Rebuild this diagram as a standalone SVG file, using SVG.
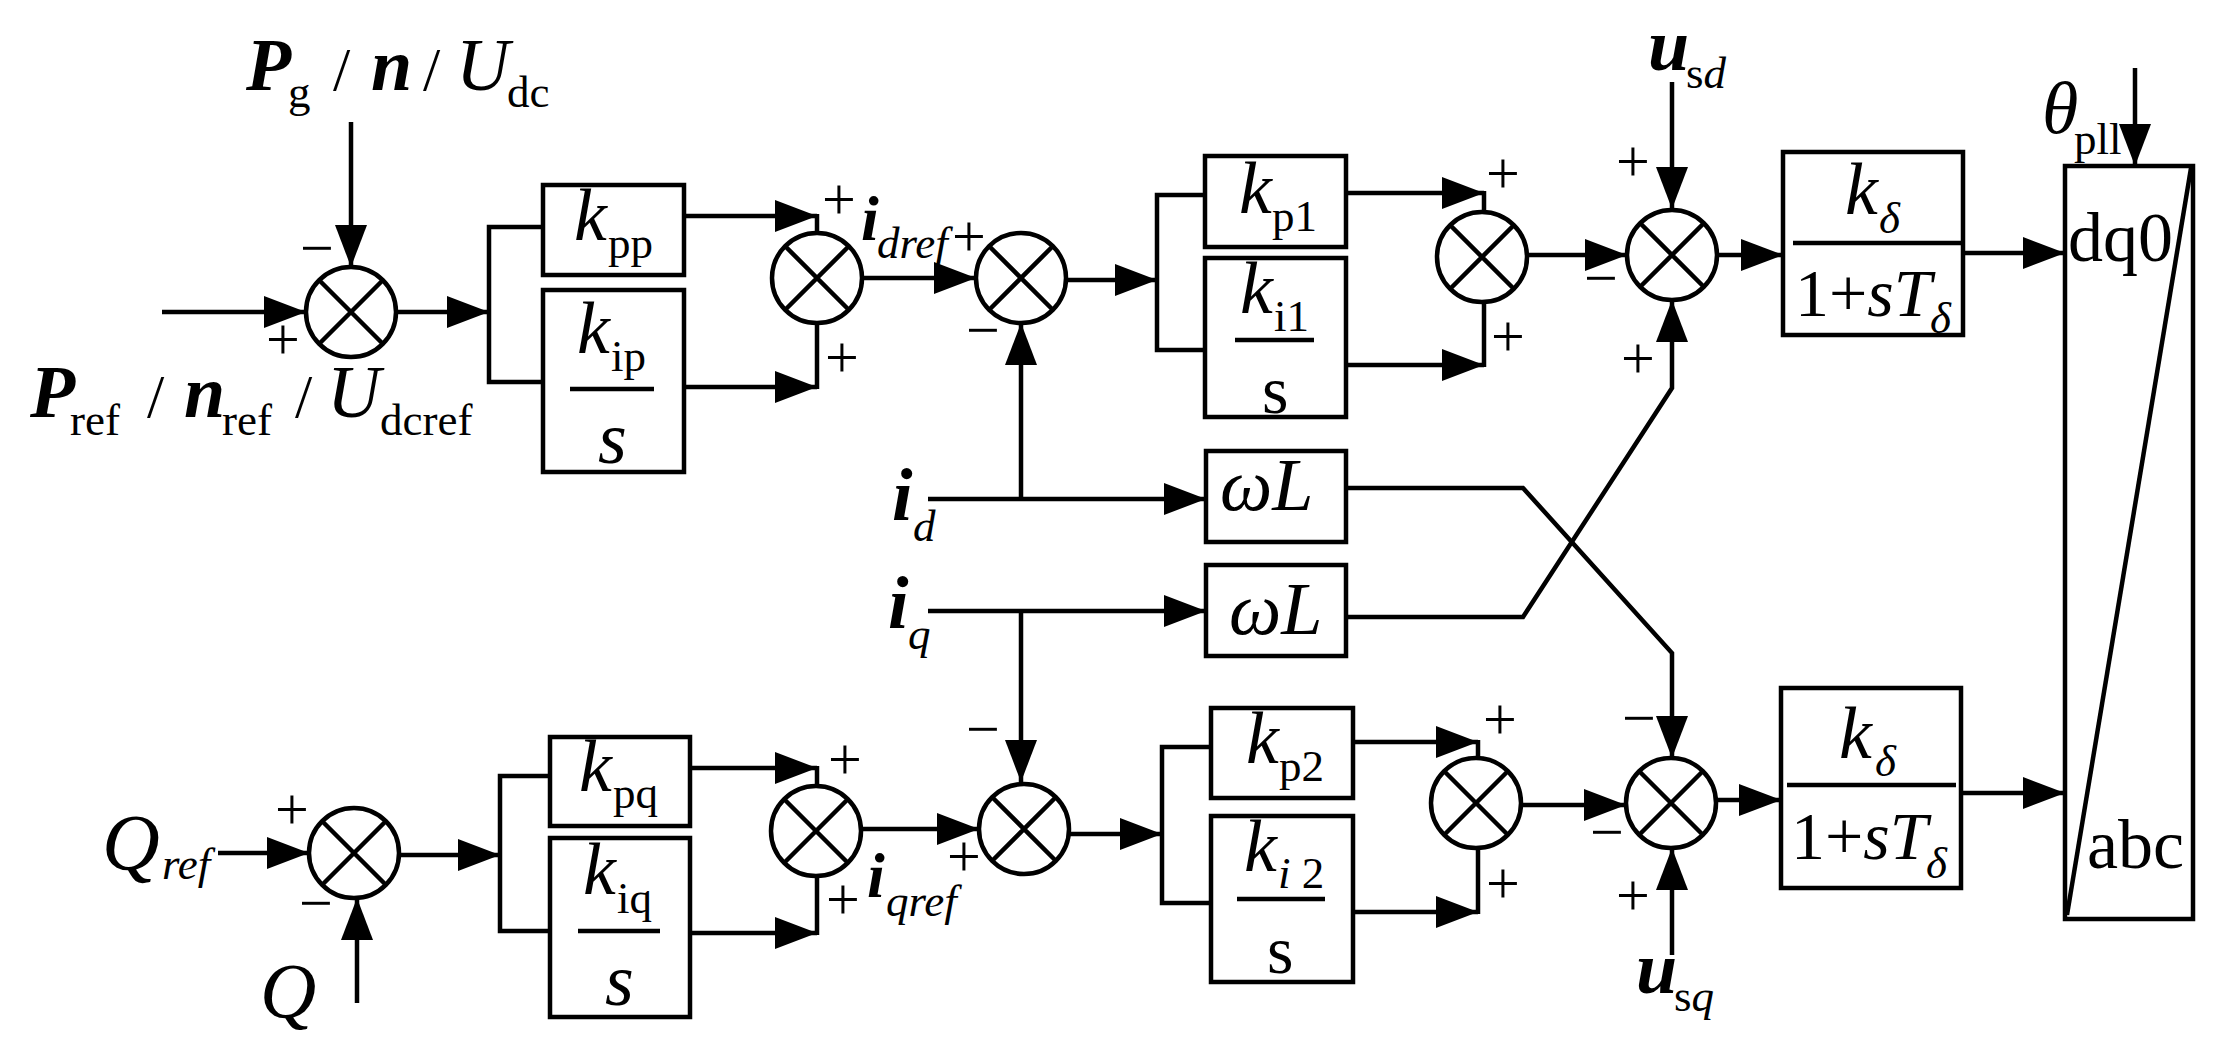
<svg xmlns="http://www.w3.org/2000/svg" width="2229" height="1062" viewBox="0 0 2229 1062">
<defs>
<style>
.ln{fill:none;stroke:#000;stroke-width:4.5;stroke-linejoin:miter}
.ar{fill:none;stroke:#000;stroke-width:4.5;marker-end:url(#ah)}
.bx{fill:#fff;stroke:#000;stroke-width:4.5}
.sc{fill:#fff;stroke:#000;stroke-width:4.5}
text{font-family:"Liberation Serif","Times New Roman",serif;fill:#000}
.it{font-style:italic}
.bi{font-style:italic;font-weight:bold}
.m{font-size:74px}
.s{font-size:45px}
.sg{font-size:60px}
.sl{font-size:62px}
</style>
<marker id="ah" markerUnits="userSpaceOnUse" markerWidth="42" markerHeight="32" refX="42" refY="16" orient="auto" viewBox="0 0 42 32">
<path d="M0,0 L42,16 L0,32 z" fill="#000"/>
</marker>
<g id="sumj">
<circle cx="0" cy="0" r="45" class="sc"/>
<path d="M-32,-32 L32,32 M32,-32 L-32,32" class="ln"/>
</g>
</defs>
<rect width="2229" height="1062" fill="#fff"/>

<g id="connectors">
<path class="ar" d="M162,312 H306"/>
<path class="ar" d="M351,122 V267"/>
<path class="ar" d="M396,312 H489"/>
<path class="ln" d="M543,227 H489 V382 H543"/>
<path class="ar" d="M684,216 H817"/>
<path class="ln" d="M817,214 V233"/>
<path class="ar" d="M684,387 H817"/>
<path class="ln" d="M817,389 V323"/>
<path class="ar" d="M862,278 H976"/>
<path class="ar" d="M1021,499 V323"/>
<path class="ar" d="M1066,280 H1157"/>
<path class="ln" d="M1205,195 H1157 V350 H1205"/>
<path class="ar" d="M1346,193 H1484"/>
<path class="ln" d="M1484,191 V212"/>
<path class="ar" d="M1346,365 H1484"/>
<path class="ln" d="M1484,367 V302"/>
<path class="ar" d="M1527,255 H1627"/>
<path class="ar" d="M1672,82 V209"/>
<path class="ar" d="M1717,255 H1783"/>
<path class="ar" d="M1963,253 H2065"/>
<path class="ar" d="M2135,68 V166"/>
<path class="ar" d="M928,499 H1206"/>
<path class="ar" d="M928,611 H1206"/>
<path class="ar" d="M1021,611 V782"/>
<path class="ar" d="M1346,617 H1523 L1672,388 V300"/>
<path class="ar" d="M1346,488 H1523 L1672,653 V758"/>
<path class="ar" d="M218,853 H309"/>
<path class="ar" d="M357,1003 V898"/>
<path class="ar" d="M399,855 H500"/>
<path class="ln" d="M550,776 H500 V931 H550"/>
<path class="ar" d="M690,768 H817"/>
<path class="ln" d="M817,766 V787"/>
<path class="ar" d="M690,933 H817"/>
<path class="ln" d="M817,935 V876"/>
<path class="ar" d="M861,829 H979"/>
<path class="ar" d="M1069,834 H1162"/>
<path class="ln" d="M1211,747 H1162 V903 H1211"/>
<path class="ar" d="M1353,742 H1478"/>
<path class="ln" d="M1478,740 V759"/>
<path class="ar" d="M1353,912 H1478"/>
<path class="ln" d="M1478,914 V848"/>
<path class="ar" d="M1521,805 H1626"/>
<path class="ar" d="M1672,955 V848"/>
<path class="ar" d="M1716,800 H1781"/>
<path class="ar" d="M1961,793 H2065"/>
</g>

<g id="inputs">
<text class="bi m" x="246" y="90">P</text>
<text class="s" x="288" y="107">g</text>
<text class="sl" x="333" y="90">/</text>
<text class="bi m" x="371" y="90">n</text>
<text class="sl" x="423" y="90">/</text>
<text class="it m" x="456" y="90">U</text>
<text class="s" x="507" y="107">dc</text>

<text class="bi m" x="30" y="417">P</text>
<text class="s" x="70" y="435">ref</text>
<text class="sl" x="147" y="417">/</text>
<text class="bi m" x="184" y="417">n</text>
<text class="s" x="222" y="435">ref</text>
<text class="sl" x="295" y="417">/</text>
<text class="it m" x="327" y="417">U</text>
<text class="s" x="380" y="435">dcref</text>

<text class="it" style="font-size:80px" x="102" y="870">Q</text>
<text class="it s" x="162" y="879">ref</text>
<text class="it" style="font-size:78px" x="260" y="1017">Q</text>

<text class="bi m" x="892" y="520">i</text>
<text class="it s" x="913" y="541">d</text>
<text class="bi m" x="888" y="628">i</text>
<text class="it s" x="908" y="649">q</text>

<text class="bi m" x="1648" y="70">u</text>
<text class="s" x="1686" y="88">s<tspan class="it">d</tspan></text>
<text class="bi m" x="1636" y="993">u</text>
<text class="s" x="1674" y="1011">s<tspan class="it">q</tspan></text>

<text class="it m" x="2042" y="133">θ</text>
<text class="s" x="2074" y="154">pll</text>

<text class="bi" style="font-size:64px" x="861" y="240">i</text>
<text class="it s" x="877" y="258">dref</text>
<text class="bi" style="font-size:64px" x="867" y="897">i</text>
<text class="it s" x="886" y="916">qref</text>
</g>

<g id="signs">
<text class="sg" x="317" y="268" text-anchor="middle">−</text>
<text class="sg" x="283" y="359" text-anchor="middle">+</text>
<text class="sg" x="839" y="219" text-anchor="middle">+</text>
<text class="sg" x="842" y="377" text-anchor="middle">+</text>
<text class="sg" x="969" y="256" text-anchor="middle">+</text>
<text class="sg" x="983" y="350" text-anchor="middle">−</text>
<text class="sg" x="1503" y="193" text-anchor="middle">+</text>
<text class="sg" x="1508" y="356" text-anchor="middle">+</text>
<text class="sg" x="1633" y="181" text-anchor="middle">+</text>
<text class="sg" x="1601" y="298" text-anchor="middle">−</text>
<text class="sg" x="1638" y="378" text-anchor="middle">+</text>
<text class="sg" x="292" y="829" text-anchor="middle">+</text>
<text class="sg" x="316" y="923" text-anchor="middle">−</text>
<text class="sg" x="845" y="779" text-anchor="middle">+</text>
<text class="sg" x="843" y="919" text-anchor="middle">+</text>
<text class="sg" x="983" y="749" text-anchor="middle">−</text>
<text class="sg" x="964" y="876" text-anchor="middle">+</text>
<text class="sg" x="1500" y="739" text-anchor="middle">+</text>
<text class="sg" x="1503" y="903" text-anchor="middle">+</text>
<text class="sg" x="1639" y="738" text-anchor="middle">−</text>
<text class="sg" x="1607" y="852" text-anchor="middle">−</text>
<text class="sg" x="1633" y="915" text-anchor="middle">+</text>
</g>

<g id="sum1"><use href="#sumj" x="351" y="312"/></g>
<g id="sum2"><use href="#sumj" x="817" y="278"/></g>
<g id="sum3"><use href="#sumj" x="1021" y="278"/></g>
<g id="sum4"><use href="#sumj" x="1482" y="257"/></g>
<g id="sum5"><use href="#sumj" x="1672" y="255"/></g>
<g id="sum6"><use href="#sumj" x="1671" y="803"/></g>
<g id="sum7"><use href="#sumj" x="354" y="853"/></g>
<g id="sum8"><use href="#sumj" x="816" y="831"/></g>
<g id="sum9"><use href="#sumj" x="1024" y="829"/></g>
<g id="sum10"><use href="#sumj" x="1476" y="803"/></g>

<g id="kpp">
<rect class="bx" x="543" y="185" width="141" height="90"/>
<text class="it m" x="574" y="240">k</text>
<text class="s" x="608" y="258">pp</text>
</g>
<g id="kip">
<rect class="bx" x="543" y="290" width="141" height="182"/>
<text class="it m" x="577" y="353">k</text>
<text class="s" x="611" y="371">ip</text>
<path class="ln" d="M570,389 H654"/>
<text class="it m" x="598" y="463">s</text>
</g>
<g id="kp1">
<rect class="bx" x="1205" y="156" width="141" height="91"/>
<text class="it m" x="1239" y="213">k</text>
<text class="s" x="1272" y="231">p1</text>
</g>
<g id="ki1">
<rect class="bx" x="1205" y="258" width="141" height="159"/>
<text class="it m" x="1240" y="313">k</text>
<text class="s" x="1274" y="331">i1</text>
<path class="ln" d="M1235,340 H1314"/>
<text style="font-size:68px" x="1262" y="413">s</text>
</g>
<g id="wL1">
<rect class="bx" x="1206" y="451" width="140" height="91"/>
<text class="it m" x="1220" y="510">ωL</text>
</g>
<g id="wL2">
<rect class="bx" x="1206" y="565" width="140" height="91"/>
<text class="it m" x="1229" y="634">ωL</text>
</g>
<g id="kd1">
<rect class="bx" x="1783" y="152" width="180" height="183"/>
<text class="it m" x="1845" y="214">k</text>
<text class="it s" x="1879" y="233">δ</text>
<path class="ln" d="M1793,243 H1962"/>
<text style="font-size:68px" x="1795" y="316">1+<tspan class="it">sT</tspan></text>
<text class="it s" x="1930" y="333">δ</text>
</g>
<g id="kd2">
<rect class="bx" x="1781" y="688" width="180" height="200"/>
<text class="it m" x="1839" y="758">k</text>
<text class="it s" x="1875" y="776">δ</text>
<path class="ln" d="M1787,785 H1956"/>
<text style="font-size:68px" x="1791" y="859">1+<tspan class="it">sT</tspan></text>
<text class="it s" x="1926" y="878">δ</text>
</g>
<g id="dq0abc">
<rect class="bx" x="2065" y="166" width="128" height="753"/>
<path class="ln" d="M2191,168 L2067,915"/>
<text style="font-size:70px" x="2068" y="261">dq0</text>
<text style="font-size:70px" x="2087" y="868">abc</text>
</g>
<g id="kpq">
<rect class="bx" x="550" y="737" width="140" height="89"/>
<text class="it m" x="579" y="791">k</text>
<text class="s" x="613" y="808">pq</text>
</g>
<g id="kiq">
<rect class="bx" x="550" y="838" width="140" height="179"/>
<text class="it m" x="583" y="894">k</text>
<text class="s" x="617" y="913">iq</text>
<path class="ln" d="M578,931 H660"/>
<text class="it m" x="605" y="1005">s</text>
</g>
<g id="kp2">
<rect class="bx" x="1211" y="708" width="142" height="90"/>
<text class="it m" x="1246" y="763">k</text>
<text class="s" x="1279" y="781">p2</text>
</g>
<g id="ki2">
<rect class="bx" x="1211" y="816" width="142" height="166"/>
<text class="it m" x="1244" y="871">k</text>
<text class="s" x="1278" y="888"><tspan class="it">i</tspan> 2</text>
<path class="ln" d="M1237,899 H1325"/>
<text style="font-size:68px" x="1267" y="973">s</text>
</g>
</svg>
